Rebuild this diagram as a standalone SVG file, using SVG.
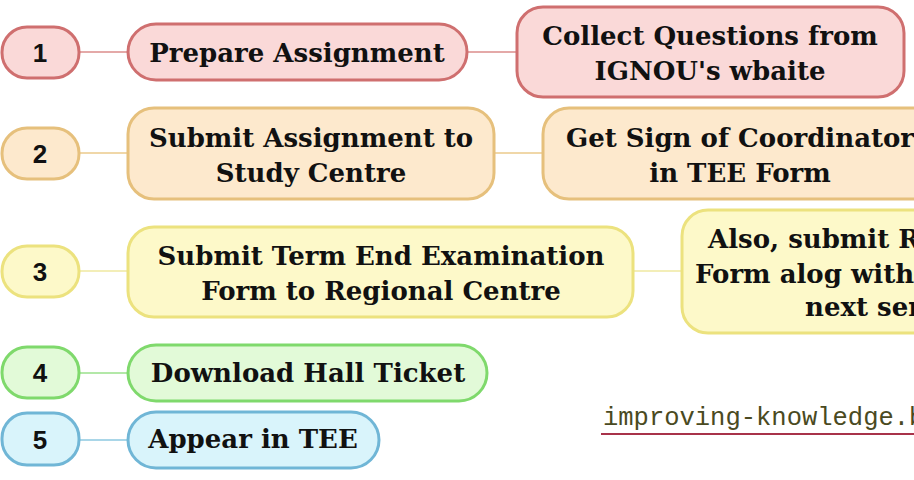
<svg xmlns="http://www.w3.org/2000/svg" width="914" height="480" viewBox="0 0 914 480">
<style>
.lbl{font-family:"DejaVu Serif","Liberation Serif",serif;font-weight:bold;font-size:26px;fill:#111;text-anchor:middle}
.num{font-family:"Liberation Sans","DejaVu Sans",sans-serif;font-weight:bold;font-size:26px;fill:#111;text-anchor:middle}
.r1{fill:#fad9d8;stroke:#cf6f6f}
.r2{fill:#fde9cd;stroke:#e6c07c}
.r3{fill:#fdf9c9;stroke:#ece27e}
.r4{fill:#e2fad8;stroke:#7fd96c}
.r5{fill:#d9f4fb;stroke:#70b6d6}
rect{stroke-width:3}
.c{stroke-width:2;fill:none}
</style>
<rect width="914" height="480" fill="#ffffff"/>
<g id="connectors">
<line class="c" x1="79" y1="52" x2="128" y2="52" stroke="#e4a9a8"/>
<line class="c" x1="467" y1="52" x2="517" y2="52" stroke="#e4a9a8"/>
<line class="c" x1="79" y1="153" x2="128" y2="153" stroke="#f0d7a8"/>
<line class="c" x1="494" y1="153" x2="543" y2="153" stroke="#f0d7a8"/>
<line class="c" x1="79" y1="271" x2="128" y2="271" stroke="#f3eeb8"/>
<line class="c" x1="633" y1="271" x2="682" y2="271" stroke="#f3eeb8"/>
<line class="c" x1="79" y1="373" x2="128" y2="373" stroke="#b3e8a8"/>
<line class="c" x1="79" y1="440" x2="128" y2="440" stroke="#a9d6e8"/>
</g>
<g id="n1"><rect class="r1" x="2" y="27" width="77" height="51" rx="25"/><text class="num" x="40" y="62">1</text></g>
<g id="n1a"><rect class="r1" x="128" y="24" width="339" height="56" rx="28"/><text class="lbl" x="297" y="62">Prepare Assignment</text></g>
<g id="n1b"><rect class="r1" x="517" y="7" width="387" height="90" rx="26"/><text class="lbl" x="710" y="45">Collect Questions from</text><text class="lbl" x="710" y="80">IGNOU's wbaite</text></g>
<g id="n2"><rect class="r2" x="2" y="128" width="77" height="51" rx="25"/><text class="num" x="40" y="163">2</text></g>
<g id="n2a"><rect class="r2" x="128" y="108" width="366" height="91" rx="26"/><text class="lbl" x="311" y="147">Submit Assignment to</text><text class="lbl" x="311" y="182">Study Centre</text></g>
<g id="n2b"><rect class="r2" x="543" y="108" width="400" height="91" rx="26"/><text class="lbl" x="740" y="147">Get Sign of Coordinator</text><text class="lbl" x="740" y="182">in TEE Form</text></g>
<g id="n3"><rect class="r3" x="2" y="246" width="77" height="51" rx="25"/><text class="num" x="40" y="281">3</text></g>
<g id="n3a"><rect class="r3" x="128" y="227" width="505" height="90" rx="26"/><text class="lbl" x="381" y="265">Submit Term End Examination</text><text class="lbl" x="381" y="300">Form to Regional Centre</text></g>
<g id="n3b"><rect class="r3" x="682" y="210" width="300" height="123" rx="26"/><text class="lbl" style="text-anchor:start" x="708" y="248">Also, submit R</text><text class="lbl" style="text-anchor:start" x="695" y="283">Form alog with</text><text class="lbl" style="text-anchor:start" x="805" y="316">next ser</text></g>
<g id="n4"><rect class="r4" x="2" y="347" width="77" height="51" rx="25"/><text class="num" x="40" y="382">4</text></g>
<g id="n4a"><rect class="r4" x="128" y="345" width="359" height="56" rx="28"/><text class="lbl" x="308" y="382">Download Hall Ticket</text></g>
<g id="n5"><rect class="r5" x="2" y="413" width="77" height="52" rx="25"/><text class="num" x="40" y="449">5</text></g>
<g id="n5a"><rect class="r5" x="128" y="412" width="251" height="56" rx="28"/><text class="lbl" x="253" y="448">Appear in TEE</text></g>
<g id="watermark">
<text x="603" y="425" font-family="'Liberation Mono','DejaVu Sans Mono',monospace" font-size="25.5" fill="#4a4a22">improving-knowledge.b</text>
<line x1="601" y1="434" x2="914" y2="434" stroke="#a8324a" stroke-width="2"/>
</g>
</svg>
